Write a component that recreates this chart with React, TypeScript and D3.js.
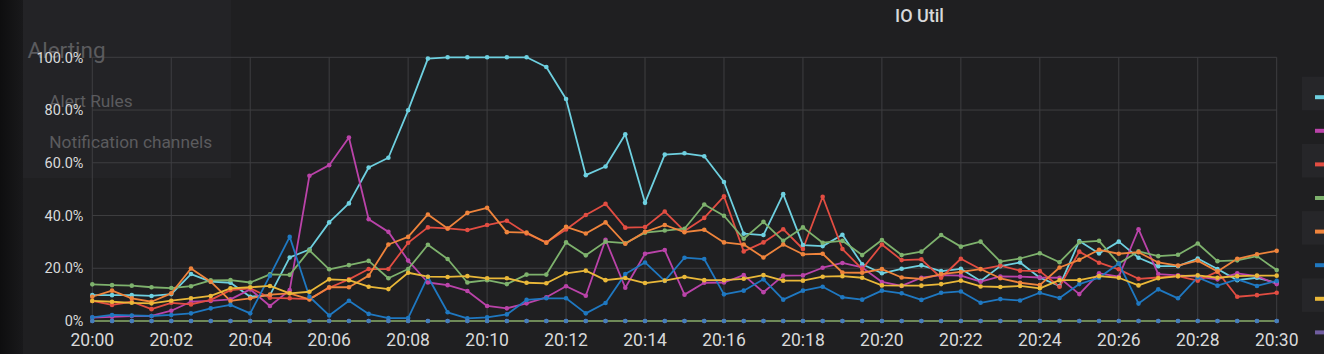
import React, { useEffect } from 'react';
import * as d3 from 'd3';

// 30s samples, 20:00 -> 20:30
const START = new Date(2019, 0, 1, 20, 0, 0);
const STEP_MS = 30 * 1000;

const cyanSeries = [
  9.8, 9.8, 9.8, 9.5, 10.2, 17.8, 14.9, 14.5, 9.2, 9.8, 24.1, 27.1, 37.4, 44.6, 58.2, 61.9, 79.9,
  99.5, 100, 100, 100, 100, 100, 96.3, 84.2,
  55.3, 58.6, 70.8, 44.8, 63.1, 63.6, 62.5, 52.7, 33.1, 32.6, 48.1,
  28.8, 28.4, 32.7, 21.5, 18.1, 19.8, 21.1, 18.9, 19.8, 15.2, 20.8, 22.2, 16.4,
  13.3, 30.3, 25.6, 30.1, 24.0, 20.8, 20.8, 23.7, 19.7, 15.5, 16.4, 14.5,
];
const magentaSeries = [
  1.3, 1.6, 1.9, 1.9, 3.9, 7.3, 7.6, 8.2, 12.0, 5.7, 11.7, 55.1, 59.1, 69.6, 38.6, 33.8, 22.9,
  14.6, 13.6, 11.4, 5.7, 4.8, 6.7, 9.0, 13.2,
  9.6, 30.8, 12.6, 25.5, 26.9, 10.0, 14.5, 14.6, 17.4, 10.9, 17.2,
  17.3, 20.2, 22.0, 20.3, 14.8, 13.3, 16.4, 17.4, 17.2, 14.9, 16.9, 16.8, 16.5,
  16.4, 10.2, 18.1, 16.8, 34.8, 17.8, 17.3, 16.8, 15.8, 18.1, 17.0, 14.0,
];
const redSeries = [
  7.6, 6.1, 7.3, 4.5, 6.9, 6.3, 8.0, 11.7, 12.4, 8.8, 8.6, 8.3, 12.6, 15.8, 19.7, 19.7, 29.7,
  35.5, 35.1, 34.5, 36.4, 38.0, 33.2, 29.8, 34.7,
  40.2, 44.4, 35.4, 35.6, 41.5, 34.1, 39.1, 47.3, 26.4, 29.8, 34.8,
  27.3, 47.1, 27.3, 19.7, 29.0, 23.1, 23.4, 16.4, 23.6, 19.6, 21.0, 19.1, 18.9,
  13.0, 26.3, 22.1, 19.6, 16.0, 16.5, 17.0, 15.3, 18.7, 9.2, 9.8, 10.7,
];
const greenSeries = [
  13.9, 13.6, 13.4, 12.8, 12.5, 13.2, 15.4, 15.5, 14.6, 17.7, 17.5, 26.8, 19.6, 21.2, 22.8, 16.2, 19.7,
  28.9, 23.5, 14.6, 15.5, 14.0, 17.6, 17.6, 29.8,
  24.9, 30.1, 29.5, 33.5, 34.3, 35.0, 44.2, 39.9, 31.2, 37.6, 30.4,
  35.5, 29.7, 30.4, 25.0, 30.7, 25.0, 26.3, 32.6, 28.2, 30.1, 22.5, 23.7, 25.7,
  22.3, 29.9, 30.4, 21.8, 26.4, 24.6, 25.1, 29.4, 22.7, 23.0, 24.6, 19.3,
];
const orangeSeries = [
  9.2, 11.5, 8.6, 7.3, 10.5, 19.9, 14.9, 7.6, 8.6, 10.0, 10.5, 8.2, 12.8, 12.8, 17.2, 29.0, 31.9,
  40.4, 35.1, 41.0, 42.9, 33.7, 33.5, 29.7, 35.7,
  33.2, 37.4, 29.3, 33.8, 36.4, 33.7, 34.6, 29.8, 29.0, 24.1, 29.0,
  25.3, 25.5, 18.4, 18.3, 19.7, 16.5, 16.0, 17.8, 18.6, 19.7, 16.2, 14.5, 13.6,
  20.3, 23.2, 27.0, 25.5, 26.1, 22.2, 21.0, 22.9, 18.8, 23.6, 25.3, 26.6,
];
const blueSeries = [
  1.4, 2.3, 2.1, 1.9, 2.3, 2.9, 4.8, 6.1, 2.9, 17.2, 31.9, 9.2, 2.1, 7.7, 2.7, 1.1, 1.1,
  16.8, 3.3, 1.0, 1.4, 2.5, 8.0, 8.6, 8.6,
  2.9, 6.8, 17.8, 22.2, 15.2, 24.0, 23.5, 10.1, 11.5, 15.8, 8.1,
  11.5, 13.0, 9.0, 8.1, 11.5, 10.5, 8.0, 10.7, 11.2, 6.9, 8.3, 7.8, 10.7,
  8.7, 14.0, 16.4, 21.8, 6.6, 12.0, 8.6, 16.5, 13.4, 15.8, 13.3, 15.2,
];
const yellowSeries = [
  7.6, 7.3, 6.9, 6.7, 7.7, 8.6, 9.5, 12.4, 12.8, 13.3, 10.5, 11.1, 15.8, 15.5, 13.0, 12.1, 18.3,
  16.8, 16.7, 17.0, 16.2, 16.2, 14.5, 14.3, 18.1,
  19.1, 15.5, 16.3, 14.4, 15.3, 16.7, 15.5, 15.5, 16.0, 17.4, 15.3,
  15.3, 16.8, 17.0, 16.4, 13.5, 13.4, 13.4, 14.0, 15.3, 13.1, 12.9, 13.3, 12.4,
  15.5, 15.5, 17.0, 16.4, 13.5, 16.2, 17.0, 17.3, 16.4, 17.0, 17.2, 17.2,
];
// idle devices sit at 0 the whole time
const idleSeries = [
  0, 0, 0, 0, 0, 0, 0, 0, 0, 0, 0, 0, 0, 0, 0, 0, 0, 0, 0, 0,
  0, 0, 0, 0, 0, 0, 0, 0, 0, 0, 0, 0, 0, 0, 0, 0, 0, 0, 0, 0,
  0, 0, 0, 0, 0, 0, 0, 0, 0, 0, 0, 0, 0, 0, 0, 0, 0, 0, 0, 0, 0,
];

const yTickValues = [0, 20, 40, 60, 80, 100];
const menuItems = ['Alert Rules', 'Notification channels'];

const series = [
  { values: cyanSeries, color: '#6ed0e0', points: true },
  { values: magentaSeries, color: '#ba43a9', points: true },
  { values: redSeries, color: '#e24d42', points: true },
  { values: greenSeries, color: '#7eb26d', points: true },
  { values: orangeSeries, color: '#ef843c', points: true },
  { values: blueSeries, color: '#1f78c1', points: true },
  { values: yellowSeries, color: '#eab839', points: true },
  { values: idleSeries, color: '#705da0', points: true },
  { values: idleSeries, color: '#447ebc', points: true },
  { values: idleSeries, color: '#6f8a58', points: false },
];
const legendColors = ['#6ed0e0', '#ba43a9', '#e24d42', '#7eb26d', '#ef843c', '#1f78c1', '#eab839', '#705da0'];

const W = 1324;
const H = 354;
const BG = '#1f1f21';
const FONT = 'Roboto, "Noto Sans", sans-serif';

export default function App() {
  useEffect(() => {
    document.body.style.margin = '0';
    document.body.style.background = BG;
  }, []);

  const times = cyanSeries.map((_, i) => new Date(START.getTime() + i * STEP_MS));
  const x = d3.scaleTime()
    .domain([START, new Date(START.getTime() + 30 * 60 * 1000)])
    .range([92.3, 1276.7]);
  const y = d3.scaleLinear().domain([0, 100]).range([321, 57.3]);
  const xTicks = x.ticks(d3.timeMinute.every(2)!);
  const fmtX = d3.timeFormat('%H:%M');
  const fmtY = (v: number) => (v === 0 ? '0%' : `${v.toFixed(1)}%`);

  const line = d3.line<number>()
    .x((_, i) => x(times[i]))
    .y(d => y(d));

  const [x0, x1] = x.range();
  const [yb, yt] = y.range();

  return (
    <svg width={W} height={H} style={{ position: 'fixed', left: 0, top: 0, display: 'block', background: BG }}>
      <rect x={0} y={0} width={W} height={H} fill={BG} />

      {/* dark side menu strip + dropdown ghost */}
      <defs>
        <linearGradient id="side" x1="0" x2="1" y1="0" y2="0">
          <stop offset="0" stopColor="#0e0e0f" />
          <stop offset="1" stopColor="#19191b" />
        </linearGradient>
      </defs>
      <rect x={0} y={0} width={23} height={H} fill="url(#side)" />
      <rect x={23} y={0} width={208} height={178} fill="#232326" />

      {/* title */}
      <text x={919.5} y={21.5} textAnchor="middle" fill="#d8d9da" fontFamily={FONT} fontSize={18} fontWeight={500}>IO Util</text>

      {/* grid */}
      <g>
        {yTickValues.map(v => (
          <line key={`gy${v}`} x1={x0} x2={x1} y1={y(v)} y2={y(v)} stroke="#3e3e41" strokeWidth={1} />
        ))}
        {xTicks.map(t => (
          <line key={`gx${+t}`} x1={x(t)} x2={x(t)} y1={yt} y2={yb} stroke="#3e3e41" strokeWidth={1} />
        ))}
      </g>

      {/* menu text sits behind the chart content */}
      <g fontFamily={FONT} fill="#5b5b5e">
        <text x={27.5} y={57.5} fontSize={22.5}>Alerting</text>
        {menuItems.map((m, i) => (
          <text key={m} x={49.3} y={106.7 + i * 41.6} fontSize={17.3}>{m}</text>
        ))}
      </g>

      {/* axis labels */}
      <g fontFamily={FONT} fill="#d8d9da">
        {yTickValues.map(v => (
          <text key={`ly${v}`} x={83.5} y={y(v)} dy="0.36em" textAnchor="end" fontSize={14.5}>{fmtY(v)}</text>
        ))}
        {xTicks.map(t => (
          <text key={`lx${+t}`} x={x(t)} y={346} textAnchor="middle" fontSize={17.5}>{fmtX(t)}</text>
        ))}
      </g>

      {/* series: lines, then points */}
      <g fill="none" strokeWidth={1.8} strokeLinejoin="round">
        {series.map((s, k) => (
          <path key={`l${k}`} d={line(s.values) || ''} stroke={s.color} />
        ))}
      </g>
      <g>
        {series.filter(s => s.points).map((s, k) => (
          <g key={`p${k}`} fill={s.color}>
            {s.values.map((v, i) => (
              <circle key={i} cx={x(times[i])} cy={y(v)} r={2.3} />
            ))}
          </g>
        ))}
      </g>

      {/* legend (cut off at the right edge) */}
      <g>
        {legendColors.map((c, i) => (
          <g key={c} transform={`translate(1302, ${76.7 + i * 33.6})`}>
            {i % 2 === 0 && <rect x={0} y={0} width={24} height={33.6} fill="#262629" />}
            <rect x={13} y={18.5} width={9} height={4} fill={c} />
          </g>
        ))}
      </g>
    </svg>
  );
}
